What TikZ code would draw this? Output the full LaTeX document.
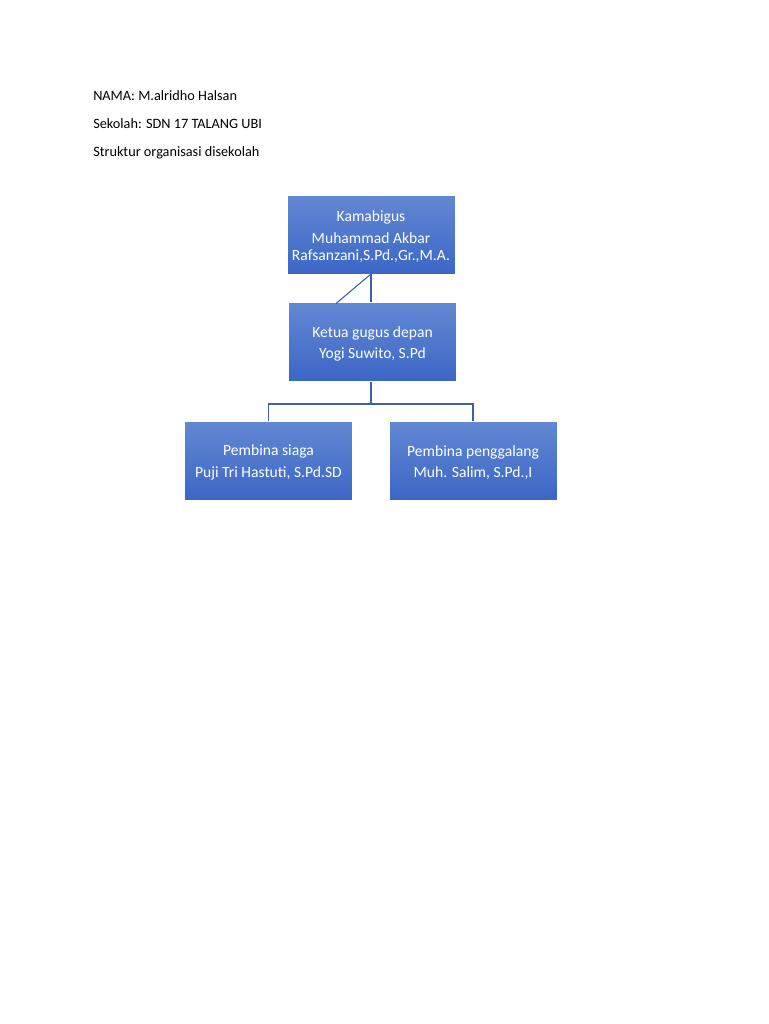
\documentclass[tikz,border=0pt]{standalone}
\usepackage{fontspec}
\setmainfont{Carlito}
\definecolor{boxtop}{HTML}{6388D3}
\definecolor{boxbot}{HTML}{3B66C6}
\definecolor{lineblue}{HTML}{3E5FA8}
\begin{document}
\begin{tikzpicture}[x=0.75pt,y=-0.75pt,
  orgbox/.style={rectangle, minimum width=168*0.75pt, minimum height=79*0.75pt, inner sep=0pt,
    top color=boxtop, bottom color=boxbot, draw=white, line width=0.4pt},
  boxtext/.style={text=white, align=center, inner sep=0pt, yshift=-1.5pt,
    font=\fontsize{11.7pt}{12.75pt}\selectfont},
  hdr/.style={anchor=base west, inner sep=0pt, font=\fontsize{10.7pt}{12.8pt}\selectfont},
  conn/.style={draw=lineblue, line width=0.8pt}]
\useasboundingbox (0,0) rectangle (768,1024);
\fill[white] (0,0) rectangle (768,1024);
\node[hdr] (h1) at (93,100) {NAMA: M.alridho Halsan};
\node[hdr] (h2) at (93,128) {Sekolah: SDN 17 TALANG UBI};
\node[hdr] (h3) at (93,156) {Struktur organisasi disekolah};

\node[orgbox, label={[boxtext]center:{Kamabigus\\[3.5pt]Muhammad Akbar\\Rafsanzani,S.Pd.,Gr.,M.A.}}] (kama) at (371,234.5) {};
\node[orgbox, label={[boxtext]center:{Ketua gugus depan\\[3.5pt]Yogi Suwito, S.Pd}}] (ketua) at (372.5,342) {};
\node[orgbox, label={[boxtext]center:{Pembina siaga\\[3.5pt]Puji Tri Hastuti, S.Pd.SD}}] (siaga) at (268.5,460.5) {};
\node[orgbox, label={[boxtext]center:{Pembina penggalang\\[3.5pt]Muh. Salim, S.Pd.,I}}] (gal) at (473,460.5) {};

\coordinate (kb) at (371,274);
\draw[conn] (kb) -- (kb |- ketua.north);
\draw[conn] (kb) -- (336,303.5);
\coordinate (kt) at (371,381.5);
\coordinate (bar) at (371,404);
\draw[conn] (kt) -- (bar);
\draw[conn] (siaga.north) -- (siaga.north |- bar) -- (gal.north |- bar) -- (gal.north);
\end{tikzpicture}
\end{document}
